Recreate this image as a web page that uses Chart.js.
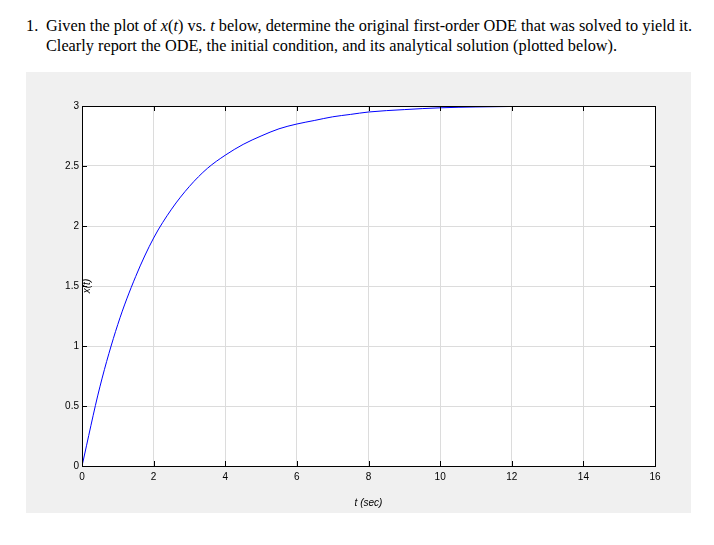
<!DOCTYPE html>
<html><head><meta charset="utf-8">
<script src="https://cdn.jsdelivr.net/npm/chart.js"></script>
<style>
body{margin:0;background:#fff;width:714px;height:545px;position:relative;font-family:"Liberation Serif","Times New Roman",serif;}
.q{position:absolute;left:26px;top:16px;font-size:16.3px;line-height:20px;color:#000;white-space:nowrap;}
.q .n{position:absolute;left:0;}
.q .t{margin-left:20px;}
#box{position:absolute;left:26px;top:72px;width:665px;height:441px;background:#f0f0f0;}
</style></head><body>
<div class="q"><span class="n">1.</span><div class="t">Given the plot of <i>x</i>(<i>t</i>) vs. <i>t</i> below, determine the original first-order ODE that was solved to yield it.<br>Clearly report the ODE, the initial condition, and its analytical solution (plotted below).</div></div>
<div id="box"><canvas id="c" width="665" height="441"></canvas></div>
<script>
const tVals=[0,0.5,1,1.5,2,2.5,3,3.5,4,4.5,5,5.5,6,6.5,7,7.5,8,9,10,11,12,13,14,15,16];
const xVals=[0,0.66,1.18,1.58,1.90,2.14,2.33,2.48,2.59,2.68,2.75,2.81,2.85,2.88,2.91,2.93,2.95,2.97,2.985,2.992,2.996,2.998,2.999,3.0,3.0];
const xTicks=[0,2,4,6,8,10,12,14,16];
const yTicks=[0,0.5,1,1.5,2,2.5,3];
const bg={id:'bg',beforeDraw(c){const a=c.chartArea,x=c.ctx;x.save();x.fillStyle='#fff';x.fillRect(a.left,a.top,a.right-a.left,a.bottom-a.top);x.restore();},
afterDraw(c){const a=c.chartArea,x=c.ctx;x.save();x.strokeStyle='#000';x.lineWidth=1;x.strokeRect(a.left+0.5,a.top+0.5,a.right-a.left,a.bottom-a.top);
x.beginPath();const xs=c.scales.x,ys=c.scales.y;
xTicks.forEach(v=>{const p=Math.round(xs.getPixelForValue(v))+0.5;x.moveTo(p,a.bottom);x.lineTo(p,a.bottom-5);x.moveTo(p,a.top);x.lineTo(p,a.top+5);});
yTicks.forEach(v=>{const p=Math.round(ys.getPixelForValue(v))+0.5;x.moveTo(a.left,p);x.lineTo(a.left+5,p);x.moveTo(a.right,p);x.lineTo(a.right-5,p);});
x.stroke();
x.fillStyle='#000';x.font='italic 10px "Liberation Sans"';x.translate(61,(a.top+a.bottom)/2);x.rotate(-Math.PI/2);x.textAlign='center';x.textBaseline='middle';x.fillText('x(t)',0,0);
x.restore();}};
new Chart(document.getElementById('c'),{type:'scatter',
data:{datasets:[{data:tVals.map((t,i)=>({x:t,y:xVals[i]})),showLine:true,borderColor:'#0000ff',borderWidth:1,pointRadius:0,cubicInterpolationMode:'monotone'}]},
options:{responsive:false,animation:false,plugins:{legend:{display:false},tooltip:{enabled:false}},
layout:{padding:{top:34,right:36,left:0,bottom:0}},
scales:{
x:{type:'linear',min:0,max:16,afterBuildTicks(s){s.ticks=xTicks.map(v=>({value:v}));},afterFit(s){s.height=47;},
grid:{color:'#dcdcdc',drawTicks:false},border:{display:false},
ticks:{color:'#000',font:{family:'Liberation Sans',size:10},padding:5},
title:{display:true,text:'t (sec)',color:'#000',font:{family:'Liberation Sans',size:10,style:'italic'},padding:{top:0}}},
y:{min:0,max:3,afterBuildTicks(s){s.ticks=yTicks.map(v=>({value:v}));},afterFit(s){s.width=56;},
grid:{color:'#dcdcdc',drawTicks:false},border:{display:false},
ticks:{color:'#000',font:{family:'Liberation Sans',size:10},padding:3,callback:v=>String(v)}}}},
plugins:[bg]});
</script></body></html>
